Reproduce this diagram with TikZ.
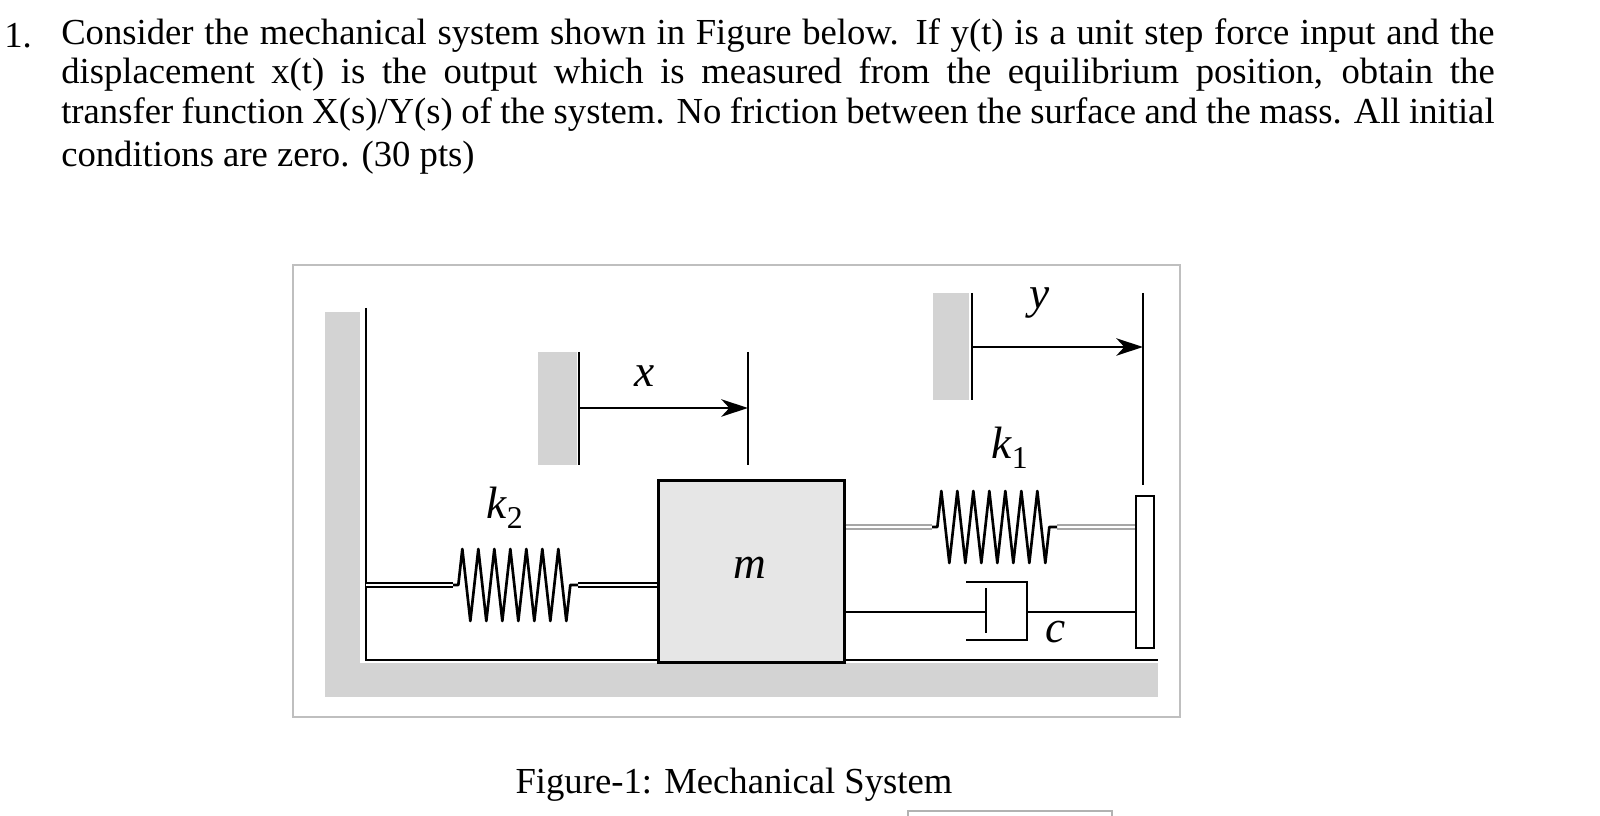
\documentclass[tikz,border=0pt]{standalone}
\usepackage{fontspec}
\setmainfont{Liberation Serif}
\usetikzlibrary{arrows.meta,decorations.pathmorphing}
\definecolor{wallgray}{HTML}{D3D3D3}
\definecolor{massgray}{HTML}{E6E6E6}
\tikzset{
  blk/.style={draw=black,line width=1.9pt},
  rodb/.style={draw=black,line width=1.1pt,double=white,double distance=2pt},
  rodg/.style={draw=gray!70,line width=1.2pt,double=white,double distance=2pt},
  springc/.style={draw=black,line width=2pt,line join=round,decorate,decoration={zigzag,amplitude=27pt,segment length=12pt,pre length=4pt,post length=4pt}},
  lbl/.style={font=\fontsize{34}{34}\selectfont\itshape,inner sep=0pt},
  txt/.style={anchor=west,inner sep=0pt,font=\fontsize{27.5}{27.5}\selectfont},
  arr/.style={draw=black,line width=1.9pt,-{Stealth[length=20pt,width=13pt,inset=6pt]}}
}
\begin{document}
\begin{tikzpicture}[x=0.75pt,y=-0.75pt]
\useasboundingbox (0,0) rectangle (1600,816);
% text
\node[txt] (n1) at (4,36) {1.};
\node[txt] (l1) at (61,36) {\makebox[1075pt][s]{Consider the mechanical system shown in Figure below. If y(t) is a unit step force input and the}};
\node[txt] (l2) at (61,74) {\makebox[1075pt][s]{displacement x(t) is the output which is measured from the equilibrium position, obtain the}};
\node[txt] (l3) at (61,115) {\makebox[1075pt][s]{transfer function X(s)/Y(s) of the system. No friction between the surface and the mass. All initial}};
\node[txt] (l4) at (61,158) {conditions are zero. (30 pts)};
% frame
\draw[gray!50,line width=1pt] (293,265) rectangle (1180,717);
% wall
\fill[wallgray] (325,312) rectangle (360,697);
\fill[wallgray] (325,663) rectangle (1158,697);
\draw[blk] (366,308) -- (366,660) -- (1158,660);
% mass
\node[blk,fill=massgray,minimum width=186*0.75pt,minimum height=182*0.75pt,anchor=north west] (m) at (657,479) {};
\node[lbl] (ml) at (750,568) {m};
% k2 spring
\coordinate (k2a) at (366,585);
\coordinate (k2b) at (453,585);
\coordinate (k2c) at (578,585);
\draw[rodb] (k2a) -- (k2b);
\draw[rodb] (k2c) -- (m.west |- k2c);
\draw[springc] (k2b) -- (k2c);
\node[lbl] (k2l) at (505,508) {k\textsubscript{\upshape 2}};
% x indicator
\fill[wallgray] (538,352) rectangle (577,465);
\draw[blk] (579,352) -- (579,465);
\draw[blk] (748,352) -- (748,465);
\coordinate (xa) at (579,408);
\coordinate (xb) at (748,408);
\draw[arr] (xa) -- (xb);
\node[lbl] (xl) at (645,376) {x};
% y indicator
\fill[wallgray] (933,293) rectangle (969,400);
\draw[blk] (972,293) -- (972,400);
\draw[blk] (1143,293) -- (1143,485);
\coordinate (ya) at (972,347);
\coordinate (yb) at (1143,347);
\draw[arr] (ya) -- (yb);
\node[lbl] (yl) at (1040,303) {y};
% right plate
\node[draw=black,line width=1.7pt,fill=white,minimum width=18*0.75pt,minimum height=152*0.75pt,anchor=north west,inner sep=0pt] (p) at (1135,495) {};
% k1
\coordinate (k1b) at (932,527);
\coordinate (k1c) at (1057,527);
\draw[rodg] (m.east |- k1b) -- (k1b);
\draw[rodg] (k1c) -- (p.west |- k1c);
\draw[springc] (k1b) -- (k1c);
\node[lbl] (k1l) at (1010,448) {k\textsubscript{\upshape 1}};
% damper
\coordinate (da) at (986,612);
\coordinate (db) at (1027,612);
\draw[blk] (m.east |- da) -- (da);
\draw[blk] (986,588) -- (986,633);
\draw[blk] (966,582) -- (1027,582) -- (1027,640) -- (966,640);
\draw[blk] (db) -- (p.west |- db);
\node[lbl] (cl) at (1056,632) {c};
% caption
\node[inner sep=0pt,font=\fontsize{27.5}{27.5}\selectfont] (cap) at (734,785) {Figure-1: Mechanical System};
\draw[gray!60,line width=1pt] (908,830) -- (908,811) -- (1112,811) -- (1112,830);
\end{tikzpicture}
\end{document}
